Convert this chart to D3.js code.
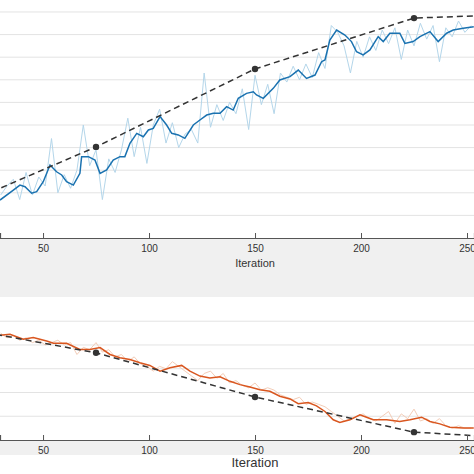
<!DOCTYPE html>
<html><head><meta charset="utf-8">
<script src="https://cdn.jsdelivr.net/npm/d3@7"></script>
<style>body{margin:0;background:#fff}svg{display:block}</style>
</head><body><div id="chart"></div>
<script>
// accuracy panel (top)
var accIter = [29.7,36.0,39.1,41.5,44.6,47.0,50.1,53.3,56.4,58.8,61.1,64.3,67.4,68.2,71.4,74.5,76.9,80.0,83.1,86.3,88.6,91.0,94.2,97.3,99.7,102.0,105.2,108.3,110.7,113.8,116.9,120.9,124.0,127.2,130.3,133.5,136.6,139.7,142.1,146.0,149.2,150.7,153.9,158.6,161.7,166.5,170.4,174.3,178.3,181.4,183.0,185.3,188.5,192.4,195.5,197.9,201.0,204.2,208.1,210.5,213.6,218.3,220.7,224.6,227.8,232.5,236.4,240.4,243.5,248.2,253.2];
var accSmooth = [1.68,2.12,2.34,2.27,1.98,2.05,2.49,3.23,2.93,2.79,2.49,2.34,2.86,3.60,3.60,3.45,2.86,3.01,3.45,3.60,3.60,4.19,4.63,4.48,4.78,4.85,5.37,5.00,4.63,4.56,4.41,5.00,5.22,5.44,5.52,5.52,5.81,5.66,6.18,6.40,6.47,6.33,6.18,6.62,6.99,7.14,7.43,7.06,7.21,7.80,7.88,8.76,9.20,8.98,8.69,8.24,8.10,8.32,8.91,8.69,9.06,9.06,8.61,8.69,8.91,9.13,8.69,9.06,9.20,9.28,9.35];
var rawIter = d3.range(30, 253, 3);
var accRaw = [1.9,2.3,2.6,1.7,2.9,1.9,2.7,2.3,4.4,2.0,
  2.8,2.2,3.0,5.0,3.2,3.9,1.7,3.5,2.9,3.9,
  5.3,3.6,4.9,3.3,5.0,5.7,4.2,5.1,4.0,4.6,
  4.8,4.2,7.3,4.9,5.9,5.2,6.0,5.5,6.6,4.8,
  7.2,5.9,6.8,5.5,7.3,6.9,7.6,7.0,7.7,7.1,
  8.2,7.5,9.4,9.1,8.5,7.3,8.7,8.0,8.9,8.3,
  9.2,8.6,9.3,7.9,9.2,8.5,9.5,8.8,9.4,7.8,
  9.3,8.9,9.6,9.1,9.4];
var valIter = [0,75,150,225,260];
var accVal = [1.0,4.03,7.48,9.73,9.85];

// loss panel (bottom)
var lossIter = [29.7,34.4,40.7,45.4,51.7,54.9,61.1,67.4,72.1,76.9,81.6,86.3,91.0,95.7,100.4,105.2,109.9,115.4,119.3,124.0,128.7,133.5,138.2,142.9,147.6,152.3,157.0,161.7,166.5,170.4,175.1,179.0,183.0,186.9,190.0,194.8,199.5,202.6,205.8,212.1,218.3,223.1,228.6,232.5,237.2,241.9,248.2,253.2];
var lossSmooth = [4.41,4.45,4.24,4.31,4.17,4.07,4.07,3.81,3.81,3.89,3.60,3.46,3.39,3.25,3.14,2.90,3.04,3.14,2.90,2.69,2.61,2.66,2.47,2.33,2.23,2.12,2.05,1.84,1.73,1.53,1.58,1.44,1.20,0.85,0.74,0.85,1.06,0.96,0.85,0.85,0.78,0.85,0.96,0.78,0.68,0.54,0.50,0.50];
var lossRaw = [4.5,4.3,4.4,4.2,4.3,4.1,4.2,4.0,4.1,4.2,
  4.0,4.1,3.6,3.9,3.8,4.1,3.7,3.8,3.5,3.6,
  3.3,3.5,3.2,3.1,2.9,3.1,3.0,3.3,3.1,2.9,
  2.7,2.5,2.8,2.9,2.6,2.8,2.4,2.5,2.3,2.2,
  2.4,2.1,2.2,2.1,1.9,1.8,1.7,1.8,1.5,1.6,
  1.5,1.4,1.2,1.0,0.8,0.9,1.0,1.1,0.9,0.8,
  1.0,1.2,0.7,1.1,0.9,1.3,0.8,0.9,0.7,0.9,
  0.6,0.5,0.6,0.5,0.5];
var lossVal = [4.9,3.67,1.81,0.33,0.15];

var xTicks = [50,100,150,200,250];

var W = 474, H = 474;
var svg = d3.select("#chart").append("svg").attr("width", W).attr("height", H);

var x = d3.scaleLinear().domain([29.7, 253.3]).range([0, 474]);

// grey bands
svg.append("rect").attr("x",0).attr("y",238).attr("width",W).attr("height",59).attr("fill","#f0f0f0");
svg.append("rect").attr("x",0).attr("y",440).attr("width",W).attr("height",15).attr("fill","#f0f0f0");

function panel(top, bottom, ymax, nGrid, smoothI, smoothV, rawV, vI, vV, cLine, cRaw, labelY, titleY, titleSize) {
  var y = d3.scaleLinear().domain([0, ymax]).range([bottom, top]);
  var g = svg.append("g");
  var clip = "clip" + top;
  g.append("clipPath").attr("id", clip).append("rect")
    .attr("x",0).attr("y",top).attr("width",W).attr("height",bottom-top);
  // grid
  g.selectAll(".grid").data(d3.range(1, nGrid + 1)).enter().append("line")
    .attr("x1",0).attr("x2",W).attr("y1",function(d){return y(d)}).attr("y2",function(d){return y(d)})
    .attr("stroke","#e3e3e3").attr("stroke-width",1);
  var plot = g.append("g").attr("clip-path","url(#" + clip + ")");
  var line = d3.line().x(function(d){return x(d[0])}).y(function(d){return y(d[1])});
  var raw = d3.zip(rawIter, rawV);
  plot.append("path").attr("d", line(raw)).attr("fill","none").attr("stroke",cRaw).attr("stroke-width",1);
  plot.append("path").attr("d", line(d3.zip(smoothI, smoothV))).attr("fill","none").attr("stroke",cLine).attr("stroke-width",1.5);
  var val = d3.zip(vI, vV);
  plot.append("path").attr("d", line(val)).attr("fill","none").attr("stroke","#333")
    .attr("stroke-width",1.5).attr("stroke-dasharray","6,4");
  plot.selectAll(".dot").data(val).enter().append("circle")
    .attr("cx",function(d){return x(d[0])}).attr("cy",function(d){return y(d[1])})
    .attr("r",3.2).attr("fill","#333");
  // axis with inward ticks
  var ax = g.append("g").attr("transform","translate(0," + bottom + ")")
    .call(d3.axisBottom(x).tickValues(xTicks).tickSize(-5).tickPadding(7));
  ax.select(".domain").attr("stroke","#555").attr("stroke-width",1.2);
  ax.selectAll(".tick line").attr("stroke","#555");
  ax.selectAll("text").attr("font-family","Liberation Sans, Arial, sans-serif").attr("font-size",10).attr("fill","#333");
  g.append("text").attr("x",255).attr("y",titleY).attr("text-anchor","middle")
    .attr("font-family","Liberation Sans, Arial, sans-serif").attr("font-size",titleSize).attr("fill","#333")
    .text("Iteration");
}

panel(0, 238, 10.53, 10, accIter, accSmooth, accRaw, valIter, accVal, "#1a72b0", "#b4d6ea", 250, 267, 11);
panel(297, 440, 6.02, 5, lossIter, lossSmooth, lossRaw, valIter, lossVal, "#d9561f", "#f3cdb8", 449, 467, 13);
</script>
</body></html>
